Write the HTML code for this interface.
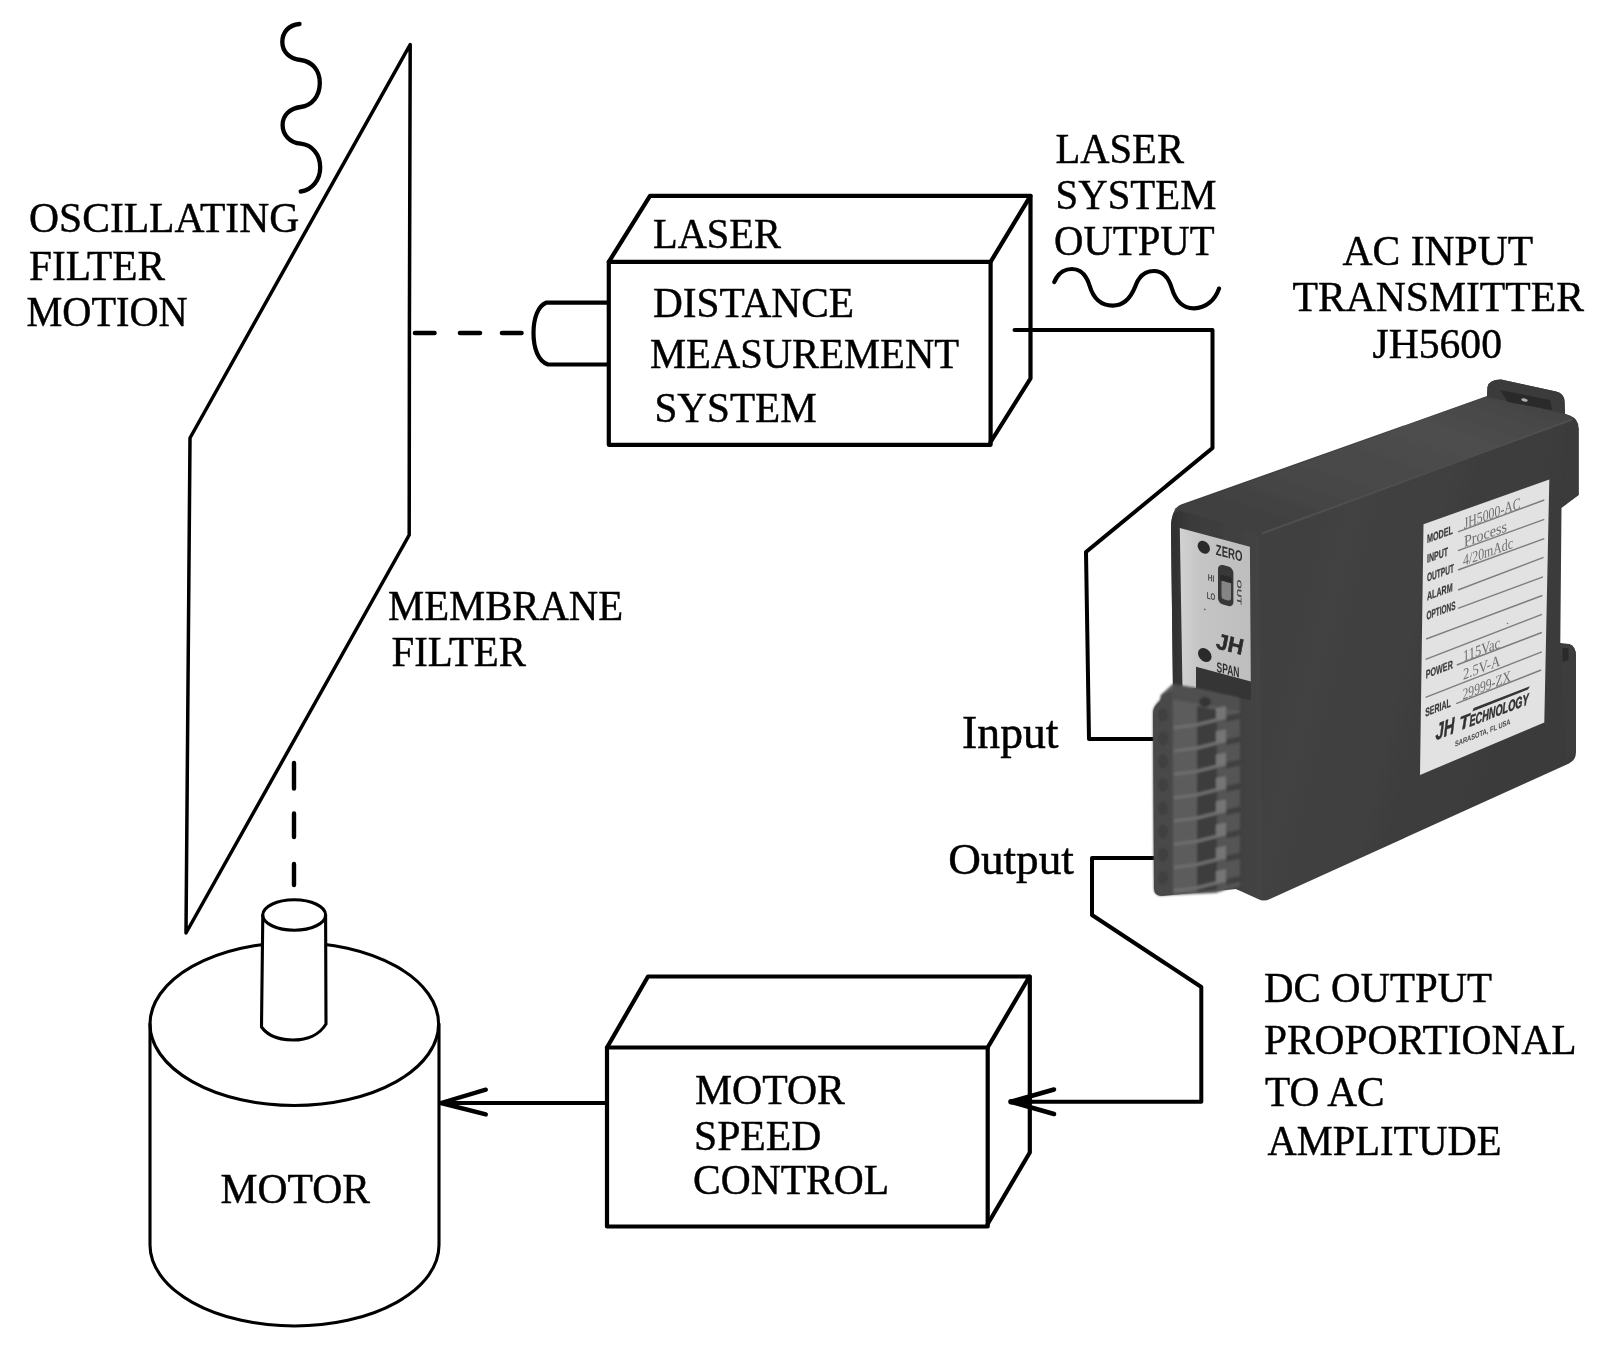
<!DOCTYPE html>
<html>
<head>
<meta charset="utf-8">
<title>Oscillating filter laser measurement diagram</title>
<style>
html,body{margin:0;padding:0;background:#fff;}
body{width:1600px;height:1361px;overflow:hidden;position:relative;font-family:"Liberation Serif",serif;}
svg{position:absolute;left:0;top:0;display:block;}
text{font-family:"Liberation Serif",serif;}
.t{font-size:42px;stroke:#000;stroke-width:0.45px;}
.sn,.sn text{font-family:"Liberation Sans",sans-serif;}
.mo,.mo text{font-family:"Liberation Mono",monospace;}
.sf{font-family:"Liberation Serif",serif;}
.ln{fill:none;stroke:#000;stroke-width:3.5;stroke-linecap:round;stroke-linejoin:round;}
.wr{stroke-width:4;}
#motor .ln{stroke-width:3.1;}
.bx{fill:none;stroke:#000;stroke-width:4.2;stroke-linecap:round;stroke-linejoin:round;}
</style>
</head>
<body>
<svg width="1600" height="1361" viewBox="0 0 1600 1361">
<rect x="0" y="0" width="1600" height="1361" fill="#ffffff"/>

<defs><filter id="soft3" x="-2%" y="-2%" width="104%" height="104%"><feGaussianBlur stdDeviation="0.4"/></filter></defs>
<g id="lineart" filter="url(#soft3)">
<!-- ===== membrane filter parallelogram ===== -->
<g id="membrane">
<path class="ln" d="M410.2 44.5 L190 438 L186 933 L409.2 535 L409.4 330 Z"/>
</g>

<!-- ===== squiggle (oscillating motion) ===== -->
<g id="squiggle">
<path class="ln" style="stroke-width:4.3" d="M299.5 24 C288 25 282.3 33 282.3 42 C282.3 52 290 59 300.7 60 C312 61.5 319.8 70 319.8 83 C319.8 96 312 105.5 300.7 107 C290 108.5 282.6 115 282.6 125 C282.6 135 290 142.5 300.7 143.7 C312 145 320.2 154 320.2 167.5 C320.2 180 312 190 300.7 191.5"/>
</g>

<!-- ===== dashed lines ===== -->
<g id="dashes" style="stroke-width:4.6">
<path class="ln" style="stroke-width:4.6" d="M415 333 H434.5 M460 333 H480 M502 333 H521.5"/>
<path class="ln" style="stroke-width:4.4" d="M294 763 V788.5 M294 813.5 V837 M294 864 V885"/>
</g>

<!-- ===== laser box ===== -->
<g id="laserbox">
<path class="bx" d="M608.8 261.8 H990.6 V444.8 H608.8 Z"/>
<path class="bx" d="M608.8 261.8 L650 195.8 H1030.5 L990.6 261.8"/>
<path class="bx" d="M1030.5 195.8 V378.5 L990.6 442"/>
<path class="ln" style="stroke-width:4.2" d="M607 302.7 H546 C538 306 533.5 318 533.5 333 C533.5 348 538 361 548 364.5 H607"/>
</g>

<!-- ===== motor control box ===== -->
<g id="ctrlbox">
<path class="bx" d="M607 1047.5 H987.7 V1226.5 H607 Z"/>
<path class="bx" d="M607 1047.5 L648 976.5 H1029.5 L987.7 1047.5"/>
<path class="bx" d="M1029.8 976.5 V1152.5 L987.7 1224"/>
</g>

<!-- ===== wires ===== -->
<g id="wires">
<path class="ln wr" d="M1014.5 330 H1212.5 V448 L1086 552 L1089 739 H1153"/>
<path class="ln wr" d="M1158 858 H1092 V915 L1201.3 987 V1101.7 H1011"/>
<path class="ln wr" style="stroke-width:4.6" d="M1054 1089.5 L1011 1101.7 L1054 1114"/>
<path class="ln wr" style="stroke-width:5.5" d="M1011 1101.7 H1030"/>
<path class="ln" style="stroke-width:3.8" d="M606 1103 H441"/>
<path class="ln" style="stroke-width:4.4" d="M485.8 1089.7 L441 1103 L485.8 1114.4"/>
</g>

<!-- ===== sine (laser output) ===== -->
<g id="sine">
<path class="ln" style="stroke-width:4.2" d="M1054.3 282 C1058 273 1064 269 1072 269 C1082 269 1087 277 1089.7 286 C1093 297 1100 305.6 1112.7 305.6 C1125 305.6 1131 297 1135 287 C1138 278 1144 271 1154 271 C1164 271 1169 279 1171.7 288 C1175 299 1182 308.3 1194 308.3 C1206 308.3 1215 300 1219 288.6"/>
</g>

<!-- ===== motor ===== -->
<g id="motor" style="stroke-width:3.1">
<path class="ln" d="M150 1024 V1245 A144.5 81 0 0 0 439 1245 V1024"/>
<ellipse class="ln" cx="294.3" cy="1024" rx="144.3" ry="81.5"/>
<path class="ln" style="fill:#fff" d="M262.8 915 L261.5 1027 C268 1036 280 1040 293 1040 C308 1040 320 1034 326 1024 L325.6 915"/>
<ellipse class="ln" style="fill:#fff" cx="294.2" cy="915" rx="31.4" ry="15.2"/>
</g>

<!-- ===== text ===== -->
<g id="labels" class="t">
<text transform="translate(29.0,232.0) scale(0.9903,1.0000)">OSCILLATING</text>
<text transform="translate(29.0,279.5) scale(0.9821,1.0000)">FILTER</text>
<text transform="translate(26.5,325.5) scale(0.9601,1.0000)">MOTION</text>
<text transform="translate(388.0,620.0) scale(0.9686,1.0000)">MEMBRANE</text>
<text transform="translate(391.5,666.0) scale(0.9712,1.0000)">FILTER</text>
<text transform="translate(653.0,247.5) scale(0.9621,1.0000)">LASER</text>
<text transform="translate(653.0,316.5) scale(0.9844,1.0000)">DISTANCE</text>
<text transform="translate(650.0,368.0) scale(0.9669,1.0000)">MEASUREMENT</text>
<text transform="translate(654.5,421.5) scale(0.9794,1.0000)">SYSTEM</text>
<text transform="translate(1055.5,162.5) scale(0.9659,1.0000)">LASER</text>
<text transform="translate(1055.6,209.0) scale(0.9703,1.0000)">SYSTEM</text>
<text transform="translate(1054.0,255.0) scale(0.9695,1.0000)">OUTPUT</text>
<text transform="translate(1342.5,265.0) scale(0.9903,1.0000)">AC INPUT</text>
<text transform="translate(1292.5,311.0) scale(0.9915,1.0000)">TRANSMITTER</text>
<text transform="translate(1372.5,357.5) scale(0.9909,1.0000)">JH5600</text>
<text transform="translate(962.1,748.3) scale(1.0877,1.0877)">Input</text>
<text transform="translate(948.2,874.0) scale(1.0776,1.0776)">Output</text>
<text transform="translate(1264.0,1001.5) scale(0.9727,1.0000)">DC OUTPUT</text>
<text transform="translate(1264.0,1054.0) scale(0.9856,1.0000)">PROPORTIONAL</text>
<text transform="translate(1265.0,1106.0) scale(0.9831,1.0000)">TO AC</text>
<text transform="translate(1267.5,1155.0) scale(0.9648,1.0000)">AMPLITUDE</text>
<text transform="translate(695.0,1104.0) scale(0.9940,1.0000)">MOTOR</text>
<text transform="translate(694.0,1150.0) scale(0.9918,1.0000)">SPEED</text>
<text transform="translate(693.0,1194.0) scale(0.9889,1.0000)">CONTROL</text>
<text transform="translate(220.5,1202.5) scale(0.9906,1.0000)">MOTOR</text>
</g>

</g>
<!-- ===== device photo placeholder ===== -->
<g id="device">
<defs>
<linearGradient id="gSide" x1="0" y1="0" x2="1" y2="0.3">
<stop offset="0" stop-color="#3b3b3b"/><stop offset="0.5" stop-color="#424242"/><stop offset="1" stop-color="#3a3a3a"/>
</linearGradient>
<linearGradient id="gTop" x1="0" y1="1" x2="1" y2="0">
<stop offset="0" stop-color="#3c3c3c"/><stop offset="0.35" stop-color="#464646"/><stop offset="0.7" stop-color="#4e4e4e"/><stop offset="1" stop-color="#404040"/>
</linearGradient>
<linearGradient id="gFront" x1="0" y1="0" x2="1" y2="0">
<stop offset="0" stop-color="#303030"/><stop offset="0.2" stop-color="#3a3a3a"/><stop offset="1" stop-color="#444444"/>
</linearGradient>
<linearGradient id="gTerm" x1="0" y1="0" x2="1" y2="0">
<stop offset="0" stop-color="#4a4a4a"/><stop offset="0.25" stop-color="#626262"/><stop offset="0.5" stop-color="#555555"/><stop offset="1" stop-color="#474747"/>
</linearGradient>
<linearGradient id="gPanel" x1="0" y1="0" x2="1" y2="0"><stop offset="0" stop-color="#d2d2d2"/><stop offset="0.3" stop-color="#c4c4c4"/><stop offset="1" stop-color="#bebebe"/></linearGradient>
<filter id="soft" x="-5%" y="-5%" width="110%" height="110%"><feGaussianBlur stdDeviation="0.7"/></filter>
<filter id="soft4" x="-8%" y="-5%" width="116%" height="110%"><feGaussianBlur stdDeviation="1.15"/></filter>
<filter id="soft2" x="-5%" y="-5%" width="110%" height="110%"><feGaussianBlur stdDeviation="0.45"/></filter>
</defs>
<g filter="url(#soft)">
<!-- silhouette / side face -->
<path fill="url(#gSide)" d="M1171 528 Q1171 509 1181 504.6 L1487 396 L1487.5 387 Q1489 379.5 1501 379.5 L1556 391.5 Q1564 393.5 1564.5 401 L1565 414 L1570 415.5 Q1578.6 419 1578.6 428 L1578.6 495 L1561.5 508 L1560.3 643 L1569 644 Q1576 646 1576 657 L1576 752 Q1576 760 1569 763.5 L1270 899 Q1264 902 1258 899 L1236 889 L1162 896 Q1154 896 1154 888 L1153 714 Q1153 706 1160 702 L1162 697 L1173 693 Z"/>
<!-- top face -->
<path fill="url(#gTop)" d="M1174 509 L1487 396.5 L1566 414 L1574 418.5 L1262 532 Q1256 534 1250 532 Z"/>
<!-- clip on top -->
<path fill="#3a3a3a" d="M1487 397 L1487.5 387 Q1489 379.5 1501 379.5 L1556 391.5 Q1564 393.5 1564.5 401 L1565 414 L1540 408 Z"/>
<path fill="#2a2a2a" d="M1500 390 L1550 400 L1552 410 L1508 402 Z"/>
<ellipse cx="1524.5" cy="400" rx="3.2" ry="1.6" fill="#b0b0b0" transform="rotate(12 1524.5 400)"/>
<!-- front narrow face -->
<path fill="url(#gFront)" d="M1171 528 Q1171 511 1180 511 L1252 532 Q1259 534 1259 545 L1262 898 L1236 889 L1173 693 Z"/>
<!-- right rim -->
<path fill="#3a3a3a" d="M1566 424 L1578.6 428 L1578.6 495 L1563 506 Z"/>
<path fill="#3d3d3d" d="M1560 644 L1569 644 Q1576 646 1576 656 L1576 752 L1566 758 Z"/>
<path fill="#2b2b2b" d="M1562.5 648 l6 0 l0 12 l-6 2 z"/>
<!-- subtle edge between top & side -->
<path fill="none" stroke="#4f4f4f" stroke-width="2" d="M1262 533.5 L1572 419.5"/>
</g>

<!-- front light panel -->
<g filter="url(#soft2)">
<path fill="url(#gPanel)" d="M1179.8 527.9 L1249.9 546.7 L1250.8 682 L1196 668 L1196 688 L1182.5 690 Z"/>
<path fill="#343434" d="M1196 666.7 L1250.8 681.4 L1250.8 700 L1196 690 Z"/>
<g transform="translate(1180,528) skewY(14.5)">
<circle cx="23.8" cy="13.1" r="6.2" fill="#2c2c2c"/>
<text x="35.8" y="17.6" class="sn" font-weight="bold" font-size="15" textLength="26.7" lengthAdjust="spacingAndGlyphs" fill="#2f2f2f">ZERO</text>
<rect x="38" y="26" width="15.4" height="39.5" rx="5" fill="#383838"/>
<rect x="41.5" y="40" width="9.5" height="20" rx="3" fill="#858585"/>
<rect x="40" y="36" width="12" height="6" rx="2" fill="#2a2a2a"/>
<text x="27.7" y="45.3" class="sn" font-weight="bold" font-size="9.5" textLength="6.5" lengthAdjust="spacingAndGlyphs" fill="#484848">HI</text>
<text x="26.7" y="63.5" class="sn" font-weight="bold" font-size="9.5" textLength="8.5" lengthAdjust="spacingAndGlyphs" fill="#484848">LO</text>
<text transform="translate(56.5,36.5) rotate(90)" class="sn" font-weight="bold" font-size="6.5" textLength="25" lengthAdjust="spacingAndGlyphs" fill="#484848">OUT</text>
<circle cx="24.8" cy="75" r="0.9" fill="#666"/>
<text x="36" y="111" class="sn" font-weight="bold" font-style="italic" font-size="22.5" textLength="27" lengthAdjust="spacingAndGlyphs" fill="#2a2a2a" stroke="#2a2a2a" stroke-width="0.6">JH</text>
<circle cx="24.8" cy="120.6" r="6.8" fill="#2c2c2c"/>
<text x="36.5" y="134.2" class="sn" font-weight="bold" font-size="14.4" textLength="23" lengthAdjust="spacingAndGlyphs" fill="#2f2f2f">SPAN</text>
</g>
</g>

<!-- terminal block -->
<g filter="url(#soft4)">
<path fill="#5c5c5c" d="M1172.6 684 L1196 688 L1240 698 L1240 886 L1228 889 L1216 893 L1160 895.5 Q1154.5 895 1154 888 L1153.2 712 Q1153.5 706 1160 700 L1161 694.7 Z"/>
<path fill="#484848" d="M1153.2 712 Q1153.5 706 1160 700 L1161 694.7 L1172.6 690 L1173 894.5 L1160 895.5 Q1154.5 895 1154 888 Z"/>
<path fill="#505050" d="M1172.6 684 L1196 688 L1240 698 L1240 712 L1196 703 L1173 700 Z"/>
<path fill="#3d3d3d" d="M1197 706 L1217 710 L1217 890 L1197 892 Z"/>
<path fill="#555" d="M1217 710 L1240 714 L1240 886 L1217 890 Z"/>
<path fill="#6d6d6d" d="M1174 726.0 L1197 723.0 L1217 718.0 L1217 721.5 L1197 726.5 L1174 729.5 Z"/>
<path fill="#747474" d="M1216 708.0 L1226 706.0 L1226 719.0 L1216 721.0 Z"/>
<path fill="#414141" d="M1226 716.0 L1240 713.0 L1240 719.0 L1226 722.0 Z"/>
<ellipse cx="1163" cy="715.0" rx="5" ry="7" fill="#404040"/>
<path fill="#6d6d6d" d="M1174 749.3 L1197 746.3 L1217 741.3 L1217 744.8 L1197 749.8 L1174 752.8 Z"/>
<path fill="#747474" d="M1216 731.3 L1226 729.3 L1226 742.3 L1216 744.3 Z"/>
<path fill="#414141" d="M1226 739.3 L1240 736.3 L1240 742.3 L1226 745.3 Z"/>
<ellipse cx="1163" cy="738.3" rx="5" ry="7" fill="#404040"/>
<path fill="#6d6d6d" d="M1174 772.6 L1197 769.6 L1217 764.6 L1217 768.1 L1197 773.1 L1174 776.1 Z"/>
<path fill="#747474" d="M1216 754.6 L1226 752.6 L1226 765.6 L1216 767.6 Z"/>
<path fill="#414141" d="M1226 762.6 L1240 759.6 L1240 765.6 L1226 768.6 Z"/>
<ellipse cx="1163" cy="761.6" rx="5" ry="7" fill="#404040"/>
<path fill="#6d6d6d" d="M1174 795.9 L1197 792.9 L1217 787.9 L1217 791.4 L1197 796.4 L1174 799.4 Z"/>
<path fill="#747474" d="M1216 777.9 L1226 775.9 L1226 788.9 L1216 790.9 Z"/>
<path fill="#414141" d="M1226 785.9 L1240 782.9 L1240 788.9 L1226 791.9 Z"/>
<ellipse cx="1163" cy="784.9" rx="5" ry="7" fill="#404040"/>
<path fill="#6d6d6d" d="M1174 819.2 L1197 816.2 L1217 811.2 L1217 814.7 L1197 819.7 L1174 822.7 Z"/>
<path fill="#747474" d="M1216 801.2 L1226 799.2 L1226 812.2 L1216 814.2 Z"/>
<path fill="#414141" d="M1226 809.2 L1240 806.2 L1240 812.2 L1226 815.2 Z"/>
<ellipse cx="1163" cy="808.2" rx="5" ry="7" fill="#404040"/>
<path fill="#6d6d6d" d="M1174 842.5 L1197 839.5 L1217 834.5 L1217 838.0 L1197 843.0 L1174 846.0 Z"/>
<path fill="#747474" d="M1216 824.5 L1226 822.5 L1226 835.5 L1216 837.5 Z"/>
<path fill="#414141" d="M1226 832.5 L1240 829.5 L1240 835.5 L1226 838.5 Z"/>
<ellipse cx="1163" cy="831.5" rx="5" ry="7" fill="#404040"/>
<path fill="#6d6d6d" d="M1174 865.8 L1197 862.8 L1217 857.8 L1217 861.3 L1197 866.3 L1174 869.3 Z"/>
<path fill="#747474" d="M1216 847.8 L1226 845.8 L1226 858.8 L1216 860.8 Z"/>
<path fill="#414141" d="M1226 855.8 L1240 852.8 L1240 858.8 L1226 861.8 Z"/>
<ellipse cx="1163" cy="854.8" rx="5" ry="7" fill="#404040"/>
<path fill="#6d6d6d" d="M1174 889.1 L1197 886.1 L1217 881.1 L1217 884.6 L1197 889.6 L1174 892.6 Z"/>
<path fill="#747474" d="M1216 871.1 L1226 869.1 L1226 882.1 L1216 884.1 Z"/>
<path fill="#414141" d="M1226 879.1 L1240 876.1 L1240 882.1 L1226 885.1 Z"/>
<ellipse cx="1163" cy="878.1" rx="5" ry="7" fill="#404040"/>
<ellipse cx="1205" cy="702" rx="6" ry="5" fill="#363636"/>
</g>

<!-- side label -->
<g filter="url(#soft2)">
<path fill="#e2e2e2" d="M1423.5 524.3 L1549.3 479.4 L1544.3 722.4 L1420 774.9 Z"/>
<path d="M1458 531.8 L1544.3 500 M1458 550.6 L1544.3 519.3 M1458 570 L1544.3 538.7 M1458 590 L1543.6 557.4 M1458 608.4 L1543 576.8 M1426.2 639 L1542.4 595.5 M1425.6 659.3 L1542 614.4 M1456.8 665 L1541.8 632.5 M1425.6 697.4 L1541.8 651.8 M1456.2 703.7 L1541.1 670" fill="none" stroke="#7d7d7d" stroke-width="1.4"/>
<text transform="translate(1427,543.2) skewY(-20.05)" class="sn" font-size="11.8" textLength="26" lengthAdjust="spacingAndGlyphs" fill="#3a3a3a" stroke="#3a3a3a" stroke-width="0.25" font-weight="bold">MODEL</text>
<text transform="translate(1427,563) skewY(-20.05)" class="sn" font-size="11.8" textLength="21" lengthAdjust="spacingAndGlyphs" fill="#3a3a3a" stroke="#3a3a3a" stroke-width="0.25" font-weight="bold">INPUT</text>
<text transform="translate(1427,581.8) skewY(-20.05)" class="sn" font-size="11.8" textLength="27" lengthAdjust="spacingAndGlyphs" fill="#3a3a3a" stroke="#3a3a3a" stroke-width="0.25" font-weight="bold">OUTPUT</text>
<text transform="translate(1427,600.5) skewY(-20.30)" class="sn" font-size="11.8" textLength="25.6" lengthAdjust="spacingAndGlyphs" fill="#3a3a3a" stroke="#3a3a3a" stroke-width="0.25" font-weight="bold">ALARM</text>
<text transform="translate(1426.5,619.9) skewY(-20.30)" class="sn" font-size="11.8" textLength="29" lengthAdjust="spacingAndGlyphs" fill="#3a3a3a" stroke="#3a3a3a" stroke-width="0.25" font-weight="bold">OPTIONS</text>
<text transform="translate(1425.8,678.7) skewY(-21.31)" class="sn" font-size="11.8" textLength="27" lengthAdjust="spacingAndGlyphs" fill="#3a3a3a" stroke="#3a3a3a" stroke-width="0.25" font-weight="bold">POWER</text>
<text transform="translate(1425.2,716.8) skewY(-21.55)" class="sn" font-size="11.8" textLength="25.6" lengthAdjust="spacingAndGlyphs" fill="#3a3a3a" stroke="#3a3a3a" stroke-width="0.25" font-weight="bold">SERIAL</text>
<text transform="translate(1463.7,528.9) skewY(-20.05)" class="sf" font-size="16" textLength="57" lengthAdjust="spacingAndGlyphs" fill="#6e6e6e" >JH5000-AC</text>
<text transform="translate(1464,547) skewY(-20.05)" class="sf" font-size="16" textLength="43" lengthAdjust="spacingAndGlyphs" fill="#6e6e6e" >Process</text>
<text transform="translate(1463,566) skewY(-20.05)" class="sf" font-size="16" textLength="50" lengthAdjust="spacingAndGlyphs" fill="#6e6e6e" >4/20mAdc</text>
<text transform="translate(1463,661.8) skewY(-21.06)" class="sf" font-size="16" textLength="37" lengthAdjust="spacingAndGlyphs" fill="#6e6e6e" >115Vac</text>
<text transform="translate(1463,680) skewY(-21.31)" class="sf" font-size="16" textLength="37" lengthAdjust="spacingAndGlyphs" fill="#6e6e6e" >2.5V-A</text>
<text transform="translate(1462.5,700) skewY(-21.55)" class="sf" font-size="16" textLength="48.5" lengthAdjust="spacingAndGlyphs" fill="#6e6e6e" >29999-ZX</text>
<path fill="#353535" d="M1473.7 708 L1529.9 686.2 L1528 689.6 L1472.4 711.4 Z"/>
<text transform="translate(1435.5,740.3) skewY(-21.06)" class="sn" font-size="23" textLength="19" lengthAdjust="spacingAndGlyphs" fill="#303030" font-weight="bold" font-style="italic" stroke="#303030" stroke-width="0.5">JH</text>
<text transform="translate(1459.5,730.5) skewY(-21.06)" class="sn" font-size="19" textLength="10" lengthAdjust="spacingAndGlyphs" fill="#303030" font-weight="bold" font-style="italic" stroke="#303030" stroke-width="0.5">T</text>
<text transform="translate(1469.5,726.8) skewY(-21.06)" class="sn" font-size="15.5" textLength="59" lengthAdjust="spacingAndGlyphs" fill="#303030" font-weight="bold" font-style="italic" stroke="#303030" stroke-width="0.5">ECHNOLOGY</text>
<text transform="translate(1455,746.8) skewY(-22.24)" class="sn" font-size="7.8" textLength="55.5" lengthAdjust="spacingAndGlyphs" fill="#444" font-weight="bold">SARASOTA, FL USA</text>
<circle cx="1507.5" cy="623.5" r="0.8" fill="#777"/>
</g>
</g>

</svg>
</body>
</html>
